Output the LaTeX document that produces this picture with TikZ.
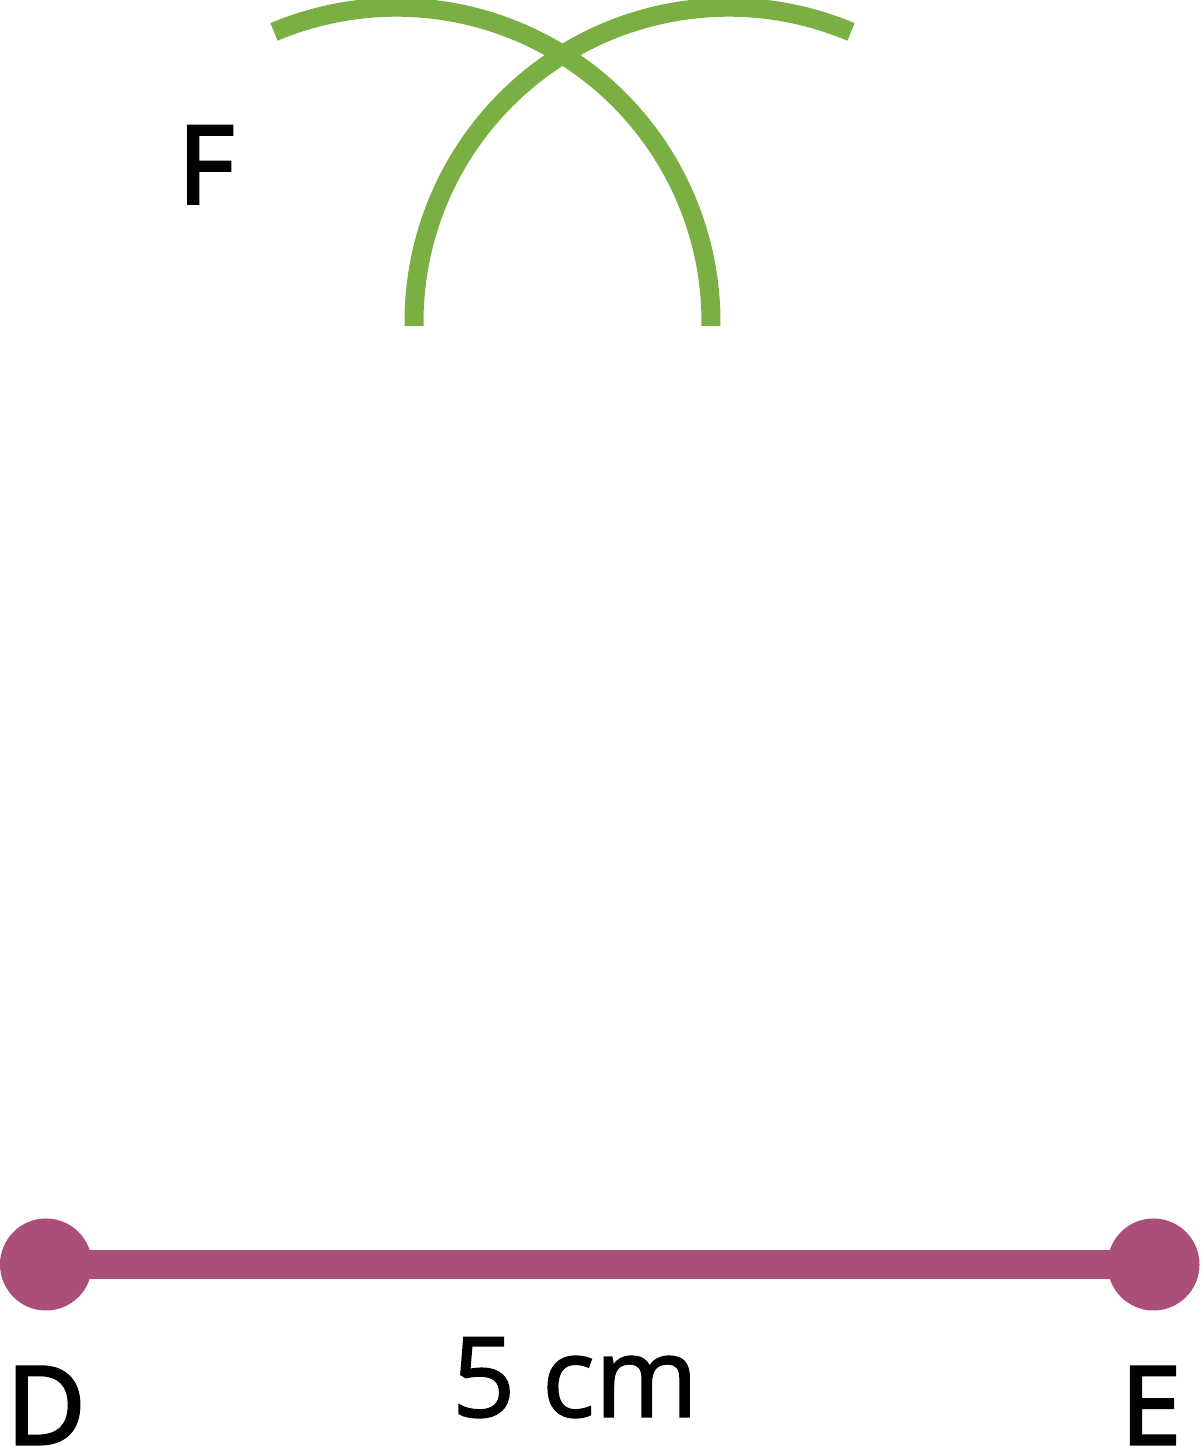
\documentclass[tikz,border=0pt]{standalone}
\usepackage{fontspec}
\setmainfont{Open Sans}
\newfontfamily\lblfont{Open Sans}[FakeBold=3]
\newfontfamily\lenfont{Open Sans}[FakeBold=1.5]
\definecolor{arcgreen}{RGB}{122,175,67}
\definecolor{segpurple}{RGB}{170,79,122}
\tikzset{
  endpt/.style={circle,fill=segpurple,draw=none,minimum size=46pt,inner sep=0pt},
  seg/.style={draw=segpurple,line width=14.5pt},
  compass/.style={draw=arcgreen,line width=9.5pt,line cap=butt},
  ptlabel/.style={anchor=base,inner sep=0pt,font=\lblfont\fontsize{54pt}{54pt}\selectfont},
  lenlabel/.style={anchor=base,inner sep=0pt,font=\lenfont\fontsize{55.5pt}{55.5pt}\selectfont}
}
\begin{document}
\begin{tikzpicture}[x=0.5pt,y=0.5pt]
\useasboundingbox (0,0) rectangle (1200,1446);
% segment DE
\node[endpt] (D) at (46,181.5) {};
\node[endpt] (E) at (1153.5,181.5) {};
\draw[seg] (D.center) -- (E.center);
% compass arcs
\coordinate (cA) at (396.3,1124.1);
\coordinate (cB) at (728.7,1124.1);
\draw[compass] (cA) ++(112.87:314.7) arc[start angle=112.87,end angle=-0.75,radius=314.7];
\draw[compass] (cB) ++(67.13:314.7) arc[start angle=67.13,end angle=180.75,radius=314.7];
% labels
\node[ptlabel] (lF) at (206,1242.7) {F};
\node[ptlabel] (lD) at (46,2) {D};
\node[ptlabel] (lE) at (1151,2) {E};
\node[lenlabel] (len) at (575,29.3) {5\hspace{0.24em}cm};
\end{tikzpicture}
\end{document}
